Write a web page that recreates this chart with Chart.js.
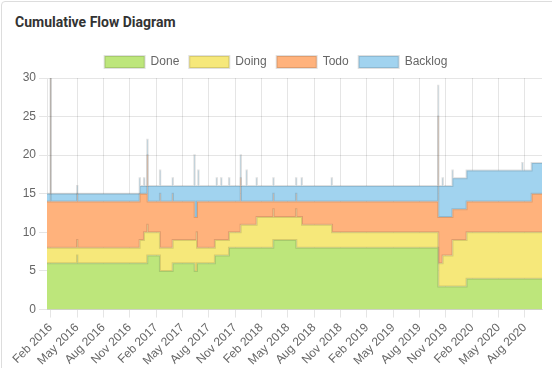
<!DOCTYPE html>
<html>
<head>
<meta charset="utf-8">
<script src="https://cdn.jsdelivr.net/npm/chart.js@4"></script>
<style>
  html, body { margin: 0; padding: 0; background: #fff; overflow: hidden; }
  .card {
    position: absolute; left: 1px; top: 1px; width: 560px; height: 380px;
    border: 1px solid #ddd; border-radius: 4px; box-sizing: border-box;
  }
  .card h3 {
    position: absolute; left: 13px; top: 12px; margin: 0;
    font: 700 14px Roboto, sans-serif; color: #333;
  }
  .chart-box { position: absolute; left: 0; top: 46px; width: 552px; height: 325px; }
</style>
</head>
<body>
<div class="card"><h3>Cumulative Flow Diagram</h3></div>
<div class="chart-box"><canvas id="cfd"></canvas></div>
<script>
// months counted from Feb 2016 (0 = Feb 2016)
const months = [-0.42, 0.00, 0.01, 3.00, 3.04, 10.13, 10.17, 10.62, 10.66, 11.00, 11.04,
  12.44, 12.48, 13.89, 13.93, 16.36, 16.40, 16.62, 16.66, 16.80, 16.84, 18.70, 18.90, 18.94,
  19.40, 19.44, 20.30, 20.34, 21.63, 21.67, 22.30, 22.34, 23.45, 23.49, 25.35, 25.39, 27.93,
  27.97, 28.58, 28.62, 32.00, 32.04, 44.12, 44.14, 44.63, 44.67, 45.75, 45.79, 47.36, 53.70,
  53.74, 54.77, 55.95];
const done    = [6, 6, 6, 7, 6, 6, 6, 6, 6, 7, 7, 5, 5, 6, 6, 6, 5, 5, 6, 6, 6, 7, 7, 7, 7, 7,
  8, 8, 8, 8, 8, 8, 8, 8, 9, 9, 9, 8, 8, 8, 8, 8, 8, 3, 3, 3, 3, 3, 4, 4, 4, 4, 4];
const doing   = [2, 2, 2, 2, 2, 3, 3, 4, 4, 4, 3, 3, 3, 3, 3, 3, 4, 5, 2, 2, 2, 2, 2, 2, 2, 2,
  2, 2, 3, 3, 3, 3, 4, 4, 4, 3, 4, 4, 4, 3, 3, 2, 2, 3, 4, 4, 6, 6, 6, 6, 6, 6, 6];
const todo    = [6, 24, 6, 6, 6, 6, 6, 5, 5, 9, 4, 7, 6, 6, 5, 5, 3, 2, 6, 6, 6, 5, 5, 5, 5, 5,
  4, 4, 6, 3, 3, 3, 2, 2, 2, 2, 2, 2, 2, 3, 3, 4, 15, 6, 5, 5, 4, 4, 4, 4, 4, 5, 5];
const backlog = [1, 1, 1, 1, 1, 2, 1, 2, 1, 2, 2, 3, 2, 2, 2, 6, 4, 4, 2, 4, 2, 2, 3, 2, 3, 2,
  3, 2, 3, 2, 4, 2, 3, 2, 2, 2, 2, 2, 3, 2, 3, 2, 4, 4, 5, 4, 5, 4, 4, 5, 4, 4, 4];

const tickMonths = [0, 3, 6, 9, 12, 15, 18, 21, 24, 27, 30, 33, 36, 39, 42, 45, 48, 51, 54];
const tickLabels = ['Feb 2016', 'May 2016', 'Aug 2016', 'Nov 2016', 'Feb 2017', 'May 2017',
  'Aug 2017', 'Nov 2017', 'Feb 2018', 'May 2018', 'Aug 2018', 'Nov 2018', 'Feb 2019',
  'May 2019', 'Aug 2019', 'Nov 2019', 'Feb 2020', 'May 2020', 'Aug 2020'];

function pts(vals) {
  return months.map((m, i) => ({ x: m, y: vals[i] }));
}

function series(label, vals, color, fill) {
  return {
    label: label,
    data: pts(vals),
    backgroundColor: color,
    borderColor: 'rgba(0,0,0,0.12)',
    borderWidth: 2,
    stepped: true,
    pointRadius: 0,
    fill: fill
  };
}

const ctx = document.getElementById('cfd').getContext('2d');
const cfdChart = new Chart(ctx, {
  type: 'line',
  data: {
    datasets: [
      series('Done', done, '#bde67b', 'origin'),
      series('Doing', doing, '#f6e87a', '-1'),
      series('Todo', todo, '#ffb27c', '-1'),
      series('Backlog', backlog, '#a1d3ef', '-1')
    ]
  },
  options: {
    responsive: true,
    maintainAspectRatio: false,
    animation: false,
    layout: { padding: { left: 10, right: 10 } },
    scales: {
      x: {
        type: 'linear',
        min: -0.42,
        max: 55.95,
        afterBuildTicks: function (scale) {
          scale.ticks = tickMonths.map(v => ({ value: v }));
        },
        ticks: {
          color: '#666',
          maxRotation: 45,
          minRotation: 45,
          autoSkip: false,
          callback: function (value) {
            return tickLabels[tickMonths.indexOf(value)];
          }
        },
        grid: { color: 'rgba(0,0,0,0.1)' }
      },
      y: {
        stacked: true,
        min: 0,
        max: 30,
        afterFit: function (scale) {
          scale.width = 37;
        },
        ticks: { stepSize: 5, color: '#666' },
        grid: { color: 'rgba(0,0,0,0.1)' }
      }
    },
    plugins: {
      legend: {
        labels: { color: '#666', boxWidth: 40 }
      },
      tooltip: { enabled: false }
    }
  }
});
</script>
</body>
</html>
